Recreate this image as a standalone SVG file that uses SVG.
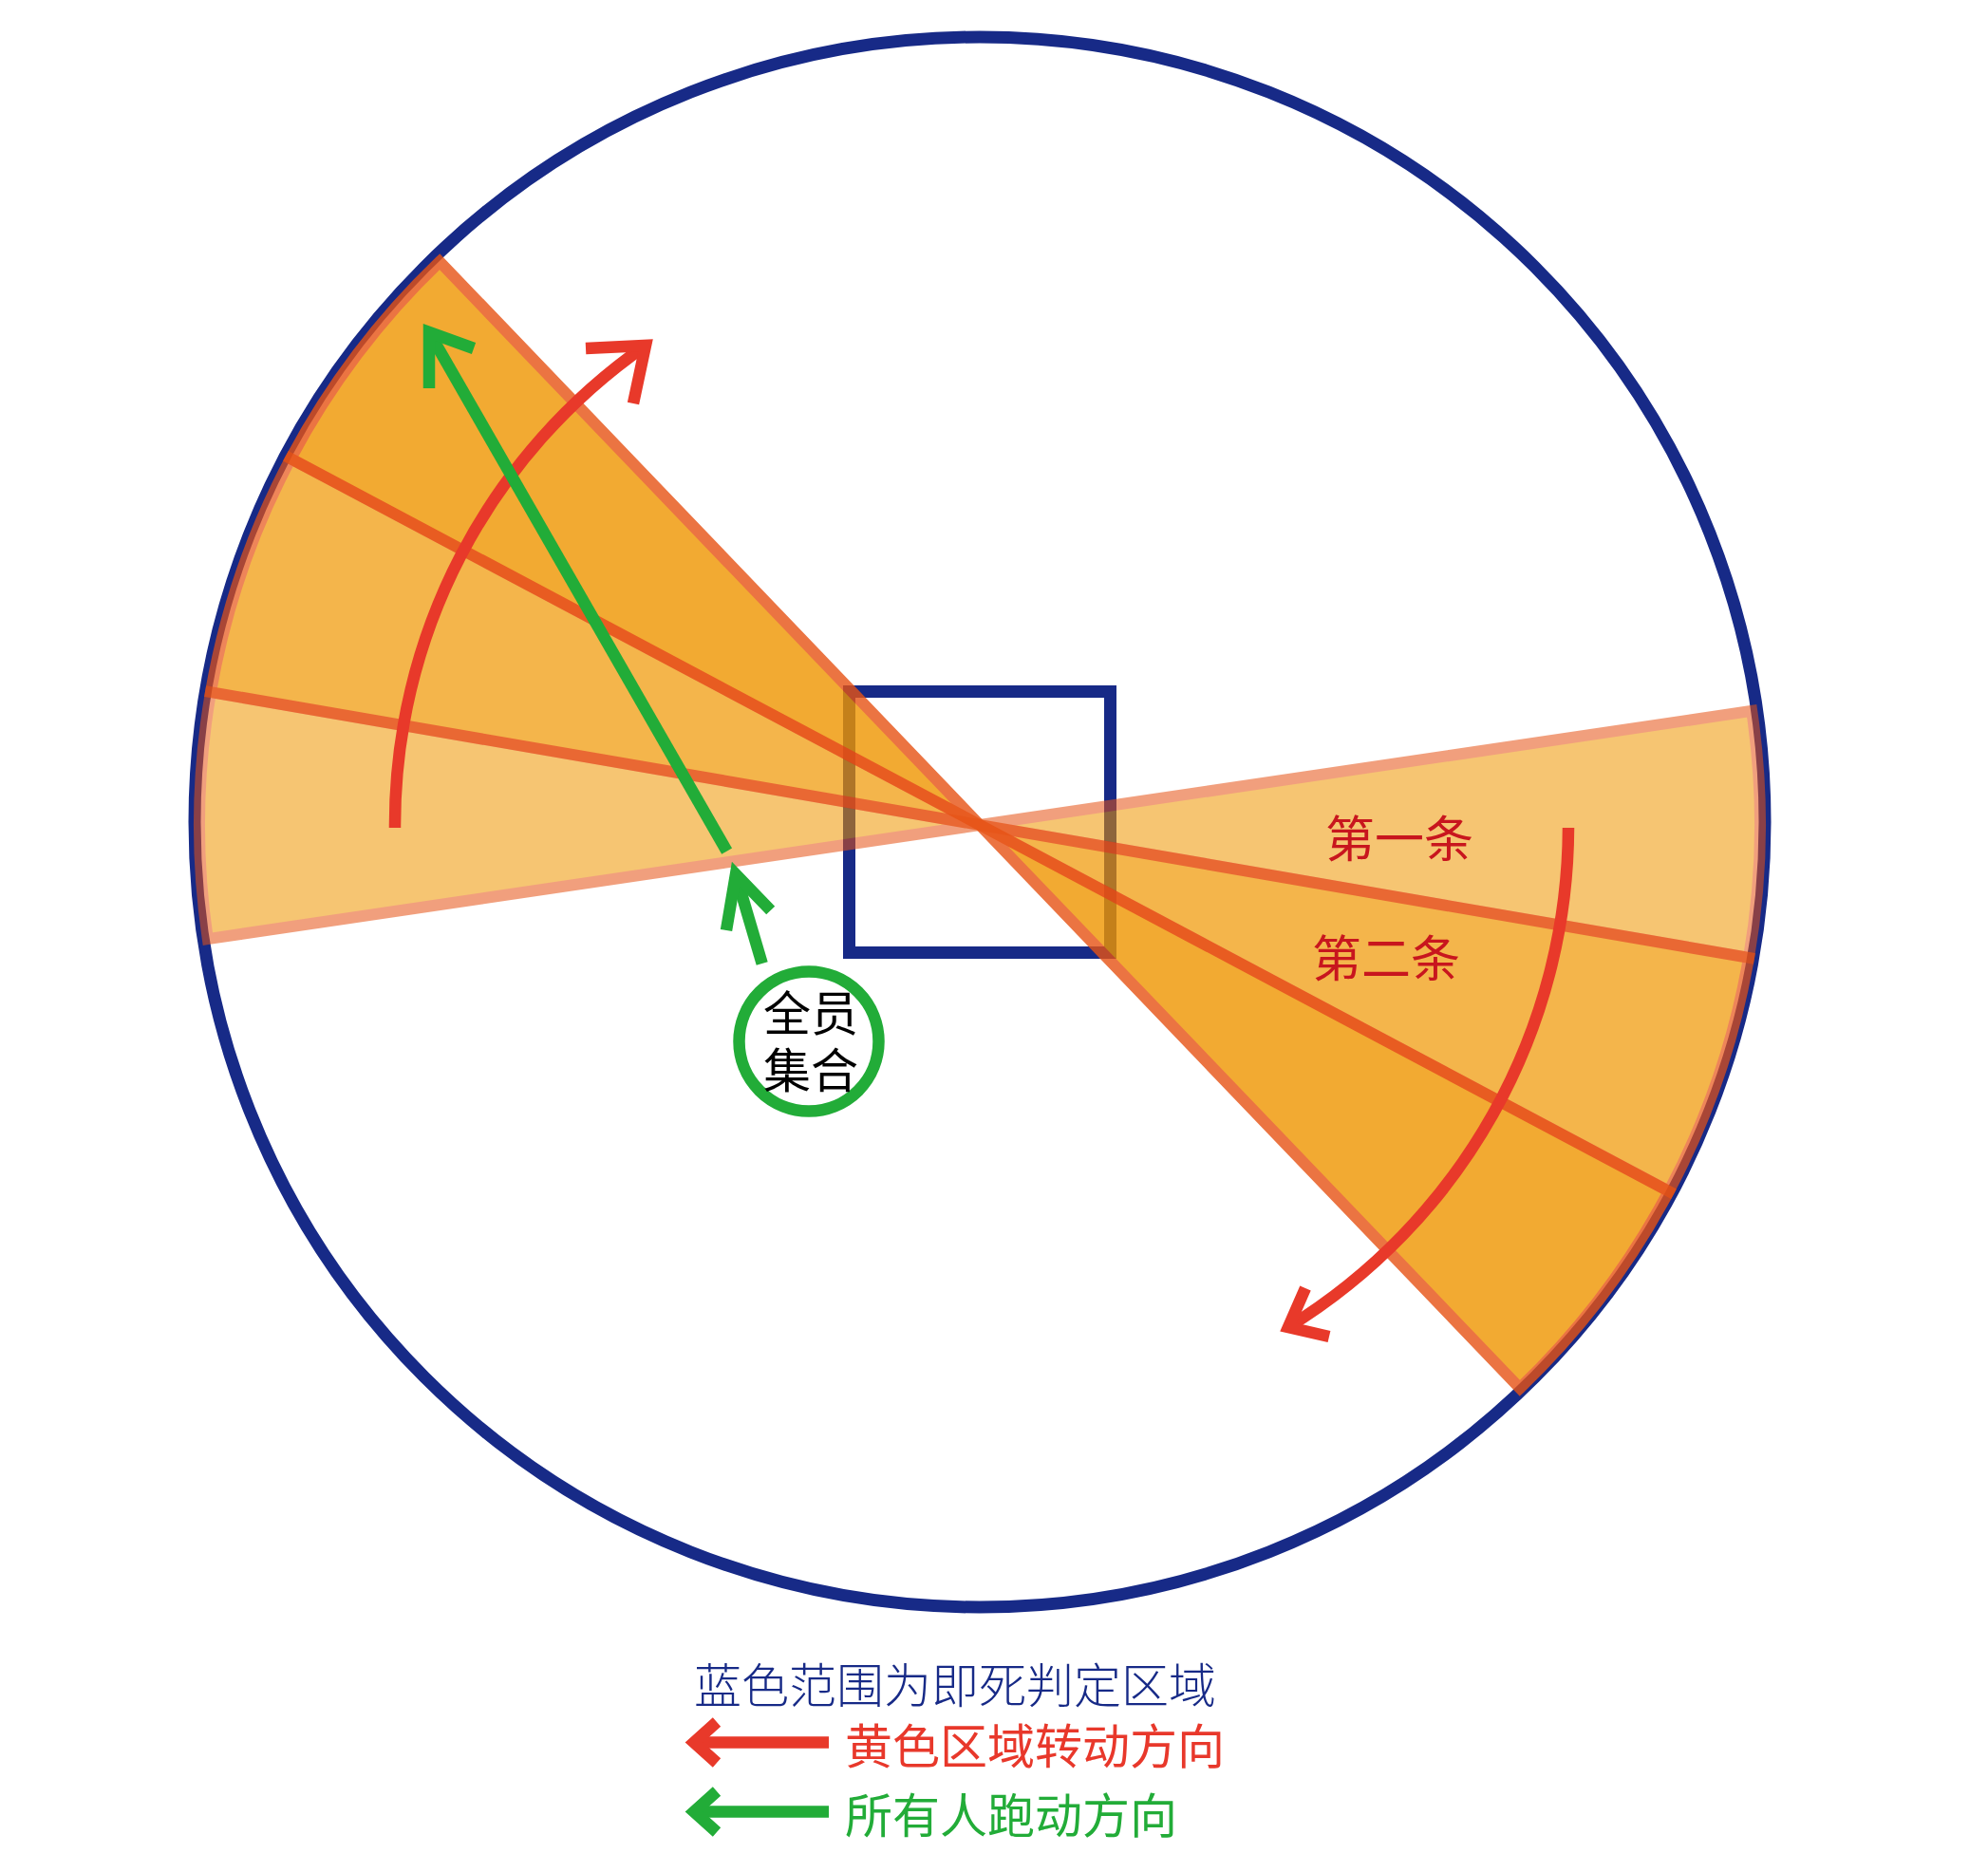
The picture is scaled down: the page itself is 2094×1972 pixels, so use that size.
<svg xmlns="http://www.w3.org/2000/svg" width="2094" height="1972" viewBox="0 0 2094 1972">
<style>
.navy{fill:none;stroke:#172a87;stroke-width:13}
.wedge{fill:#f09600;stroke:#e75214;stroke-width:12;stroke-linejoin:miter}
.red{fill:none;stroke:#e8392a;stroke-width:12.5;stroke-linejoin:miter;stroke-linecap:butt}
.grn{fill:none;stroke:#22ac38;stroke-width:12.5;stroke-linejoin:miter;stroke-linecap:butt}
.cjk{font-family:"Noto Sans CJK SC","Noto Sans CJK JP",sans-serif}
</style>
<rect width="2094" height="1972" fill="#ffffff"/>
<g id="boundary">
<circle class="navy" cx="1032" cy="866" r="827"/>
<rect class="navy" x="894.5" y="728.5" width="275" height="275"/>
</g>
<g id="strip1" opacity="0.55">
<path class="wedge" d="M218.8,989.1 L1845.2,748.9 A822,822 0 0 1 1842,1008.9 L222,729.1 A822,822 0 0 0 218.8,989.1 Z"/>
</g>
<g id="strip2" opacity="0.7">
<path class="wedge" d="M222,729.1 L1842,1008.9 A822,822 0 0 1 1757.8,1254.9 L306.2,483.1 A822,822 0 0 0 222,729.1 Z"/>
</g>
<g id="strip3" opacity="0.8">
<path class="wedge" d="M306.2,483.1 L1757.8,1254.9 A822,822 0 0 1 1600.9,1462.3 L463.1,275.7 A822,822 0 0 0 306.2,483.1 Z"/>
</g>
<g id="connectors">
<path class="red" d="M416,872 A615,615 0 0 1 680,364"/>
<path class="red" d="M617,367 L680,364 L667,425"/>
<path class="red" d="M1652,872 A620,620 0 0 1 1357,1398"/>
<path class="red" d="M1375,1357 L1357,1398 L1400,1408"/>
<path class="grn" d="M765.6,896.7 L452,350"/>
<path class="grn" d="M452,409 L452,350 L499,367"/>
<path class="grn" d="M802.7,1015 L775,921"/>
<path class="grn" d="M765,980 L775,921 L811.7,959"/>
</g>
<g id="assembly">
<circle cx="852" cy="1097" r="73.5" fill="#ffffff" stroke="#22ac38" stroke-width="12.5"/>
<text class="cjk" x="854" y="1086" font-size="50" text-anchor="middle" fill="#000000">全员</text>
<text class="cjk" x="854" y="1146" font-size="50" text-anchor="middle" fill="#000000">集合</text>
</g>
<g id="labels">
<text class="cjk" x="1474" y="903" font-size="52" text-anchor="middle" fill="#c8161e">第一条</text>
<text class="cjk" x="1460" y="1029" font-size="52" text-anchor="middle" fill="#c8161e">第二条</text>
</g>
<g id="legend">
<text class="cjk" x="731" y="1794" font-size="50" font-weight="300" fill="#172a87">蓝色范围为即死判定区域</text>
<path class="red" d="M735,1835.5 L873,1835.5"/>
<path class="red" d="M755,1814 L731,1835.5 L755,1857"/>
<text class="cjk" x="890" y="1858" font-size="50" fill="#e8382b">黄色区域转动方向</text>
<path class="grn" d="M735,1908.5 L873,1908.5"/>
<path class="grn" d="M755,1887 L731,1908.5 L755,1930"/>
<text class="cjk" x="890" y="1931" font-size="50" fill="#22ac38">所有人跑动方向</text>
</g>
</svg>
